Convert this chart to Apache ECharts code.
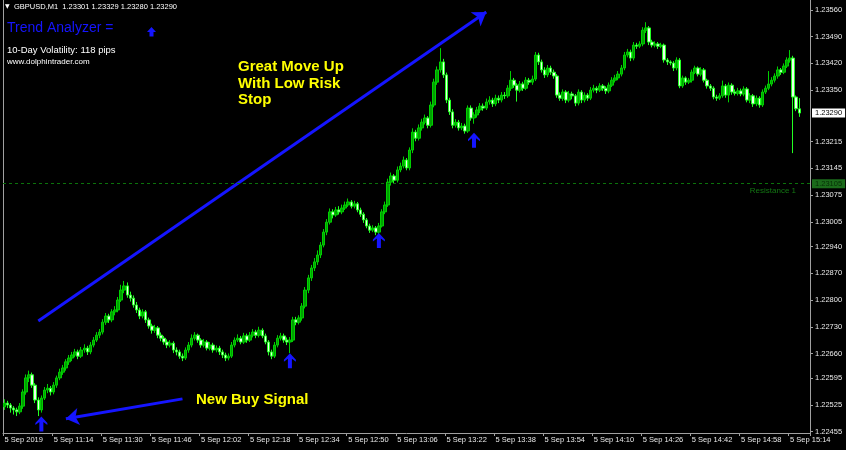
<!DOCTYPE html>
<html>
<head>
<meta charset="utf-8">
<script src="https://cdn.jsdelivr.net/npm/echarts@6/dist/echarts.min.js"></script>
<style>html,body{margin:0;padding:0;background:#000;}#c{width:846px;height:450px;}</style>
</head>
<body>
<div id="c"></div>
<script>
// ---- data (GBPUSD M1, 5 Sep 2019, from 10:58) ----
const opens = [
1.22520,1.22530,1.22525,1.22517,1.22512,1.22507,1.22522,1.22559,1.22596,1.22604,
1.22577,1.22538,1.22512,1.22543,1.22564,1.22569,1.22559,1.22577,1.22596,1.22611,
1.22622,1.22638,1.22648,1.22656,1.22664,1.22653,1.22669,1.22674,1.22664,1.22682,
1.22695,1.22708,1.22716,1.22742,1.22758,1.22748,1.22769,1.22774,1.22800,1.22826,
1.22837,1.22813,1.22805,1.22787,1.22774,1.22758,1.22769,1.22748,1.22732,1.22721,
1.22727,1.22708,1.22700,1.22690,1.22682,1.22687,1.22669,1.22664,1.22653,1.22648,
1.22669,1.22682,1.22700,1.22708,1.22695,1.22682,1.22690,1.22674,1.22682,1.22669,
1.22674,1.22664,1.22656,1.22648,1.22653,1.22682,1.22695,1.22700,1.22690,1.22706,
1.22695,1.22708,1.22716,1.22708,1.22721,1.22706,1.22690,1.22664,1.22653,1.22682,
1.22700,1.22706,1.22695,1.22690,1.22695,1.22748,1.22742,1.22753,1.22784,1.22826,
1.22858,1.22884,1.22900,1.22918,1.22944,1.22978,1.23004,1.23031,1.23023,1.23036,
1.23031,1.23041,1.23049,1.23057,1.23046,1.23052,1.23036,1.23025,1.23010,1.22994,
1.22983,1.22989,1.22978,1.22994,1.23031,1.23049,1.23109,1.23125,1.23114,1.23141,
1.23151,1.23167,1.23146,1.23193,1.23240,1.23224,1.23251,1.23266,1.23277,1.23258,
1.23311,1.23371,1.23403,1.23424,1.23390,1.23324,1.23293,1.23258,1.23266,1.23251,
1.23256,1.23243,1.23303,1.23277,1.23285,1.23298,1.23308,1.23303,1.23319,1.23324,
1.23314,1.23329,1.23324,1.23337,1.23335,1.23355,1.23376,1.23363,1.23350,1.23366,
1.23355,1.23376,1.23371,1.23379,1.23442,1.23424,1.23403,1.23390,1.23408,1.23397,
1.23387,1.23337,1.23329,1.23345,1.23324,1.23340,1.23335,1.23316,1.23345,1.23324,
1.23337,1.23329,1.23350,1.23355,1.23350,1.23361,1.23355,1.23348,1.23363,1.23376,
1.23382,1.23392,1.23408,1.23442,1.23450,1.23434,1.23468,1.23465,1.23471,1.23507,
1.23513,1.23476,1.23468,1.23471,1.23465,1.23468,1.23429,1.23424,1.23421,1.23408,
1.23429,1.23361,1.23382,1.23371,1.23376,1.23397,1.23408,1.23392,1.23403,1.23376,
1.23361,1.23355,1.23332,1.23329,1.23335,1.23361,1.23337,1.23363,1.23345,1.23342,
1.23348,1.23340,1.23353,1.23324,1.23335,1.23314,1.23329,1.23311,1.23345,1.23355,
1.23366,1.23376,1.23387,1.23403,1.23397,1.23413,1.23429,1.23434,1.23332,1.23301
];
const closes = [
1.22530,1.22525,1.22517,1.22512,1.22507,1.22522,1.22559,1.22596,1.22604,1.22577,
1.22538,1.22512,1.22543,1.22564,1.22569,1.22559,1.22577,1.22596,1.22611,1.22622,
1.22638,1.22648,1.22656,1.22664,1.22653,1.22669,1.22674,1.22664,1.22682,1.22695,
1.22708,1.22716,1.22742,1.22758,1.22748,1.22769,1.22774,1.22800,1.22826,1.22837,
1.22813,1.22805,1.22787,1.22774,1.22758,1.22769,1.22748,1.22732,1.22721,1.22727,
1.22708,1.22700,1.22690,1.22682,1.22687,1.22669,1.22664,1.22653,1.22648,1.22669,
1.22682,1.22700,1.22708,1.22695,1.22682,1.22690,1.22674,1.22682,1.22669,1.22674,
1.22664,1.22656,1.22648,1.22653,1.22682,1.22695,1.22700,1.22690,1.22706,1.22695,
1.22708,1.22716,1.22708,1.22721,1.22706,1.22690,1.22664,1.22653,1.22682,1.22700,
1.22706,1.22695,1.22690,1.22695,1.22748,1.22742,1.22753,1.22784,1.22826,1.22858,
1.22884,1.22900,1.22918,1.22944,1.22978,1.23004,1.23031,1.23023,1.23036,1.23031,
1.23041,1.23049,1.23057,1.23046,1.23052,1.23036,1.23025,1.23010,1.22994,1.22983,
1.22989,1.22978,1.22994,1.23031,1.23049,1.23109,1.23125,1.23114,1.23141,1.23151,
1.23167,1.23146,1.23193,1.23240,1.23224,1.23251,1.23266,1.23277,1.23258,1.23311,
1.23371,1.23403,1.23424,1.23390,1.23324,1.23293,1.23258,1.23266,1.23251,1.23256,
1.23243,1.23303,1.23277,1.23285,1.23298,1.23308,1.23303,1.23319,1.23324,1.23314,
1.23329,1.23324,1.23337,1.23335,1.23355,1.23376,1.23363,1.23350,1.23366,1.23355,
1.23376,1.23371,1.23379,1.23442,1.23424,1.23403,1.23390,1.23408,1.23397,1.23387,
1.23337,1.23329,1.23345,1.23324,1.23340,1.23335,1.23316,1.23345,1.23324,1.23337,
1.23329,1.23350,1.23355,1.23350,1.23361,1.23355,1.23348,1.23363,1.23376,1.23382,
1.23392,1.23408,1.23442,1.23450,1.23434,1.23468,1.23465,1.23471,1.23507,1.23513,
1.23476,1.23468,1.23471,1.23465,1.23468,1.23429,1.23424,1.23421,1.23408,1.23429,
1.23361,1.23382,1.23371,1.23376,1.23397,1.23408,1.23392,1.23403,1.23376,1.23361,
1.23355,1.23332,1.23329,1.23335,1.23361,1.23337,1.23363,1.23345,1.23342,1.23348,
1.23340,1.23353,1.23324,1.23335,1.23314,1.23329,1.23311,1.23345,1.23355,1.23366,
1.23376,1.23387,1.23403,1.23397,1.23413,1.23429,1.23434,1.23332,1.23301,1.23290
];
const lows = [
1.22512,1.22517,1.22505,1.22500,1.22496,1.22501,1.22515,1.22552,1.22585,1.22570,
1.22530,1.22496,1.22505,1.22538,1.22556,1.22550,1.22553,1.22570,1.22590,1.22604,
1.22615,1.22630,1.22640,1.22650,1.22645,1.22648,1.22662,1.22656,1.22658,1.22676,
1.22690,1.22700,1.22710,1.22735,1.22740,1.22742,1.22760,1.22768,1.22795,1.22818,
1.22806,1.22796,1.22780,1.22766,1.22750,1.22752,1.22740,1.22725,1.22712,1.22714,
1.22700,1.22692,1.22683,1.22674,1.22676,1.22661,1.22655,1.22646,1.22640,1.22643,
1.22662,1.22676,1.22694,1.22688,1.22675,1.22676,1.22668,1.22668,1.22662,1.22663,
1.22656,1.22648,1.22640,1.22642,1.22648,1.22676,1.22690,1.22684,1.22685,1.22688,
1.22690,1.22702,1.22700,1.22702,1.22700,1.22684,1.22655,1.22645,1.22648,1.22676,
1.22694,1.22688,1.22682,1.22661,1.22690,1.22734,1.22736,1.22746,1.22778,1.22818,
1.22850,1.22876,1.22892,1.22910,1.22938,1.22970,1.22998,1.23014,1.23018,1.23024,
1.23025,1.23036,1.23044,1.23040,1.23040,1.23030,1.23018,1.23002,1.22988,1.22976,
1.22978,1.22970,1.22968,1.22990,1.23025,1.23044,1.23100,1.23106,1.23108,1.23135,
1.23145,1.23140,1.23140,1.23185,1.23216,1.23218,1.23244,1.23260,1.23250,1.23252,
1.23305,1.23364,1.23396,1.23382,1.23316,1.23285,1.23250,1.23252,1.23244,1.23245,
1.23236,1.23238,1.23270,1.23262,1.23278,1.23290,1.23296,1.23298,1.23312,1.23306,
1.23308,1.23316,1.23318,1.23327,1.23330,1.23348,1.23356,1.23320,1.23344,1.23348,
1.23350,1.23364,1.23364,1.23374,1.23416,1.23396,1.23382,1.23384,1.23390,1.23380,
1.23330,1.23322,1.23322,1.23316,1.23318,1.23326,1.23308,1.23310,1.23316,1.23318,
1.23322,1.23324,1.23344,1.23342,1.23345,1.23348,1.23340,1.23342,1.23358,1.23370,
1.23376,1.23386,1.23402,1.23436,1.23426,1.23428,1.23458,1.23460,1.23465,1.23500,
1.23468,1.23462,1.23462,1.23458,1.23460,1.23422,1.23416,1.23415,1.23400,1.23402,
1.23355,1.23356,1.23364,1.23366,1.23370,1.23392,1.23386,1.23386,1.23370,1.23354,
1.23348,1.23326,1.23322,1.23324,1.23330,1.23330,1.23318,1.23338,1.23336,1.23336,
1.23334,1.23334,1.23318,1.23316,1.23306,1.23308,1.23304,1.23306,1.23340,1.23350,
1.23360,1.23370,1.23380,1.23390,1.23392,1.23408,1.23422,1.23185,1.23295,1.23280
];
const highs = [
1.22540,1.22536,1.22530,1.22522,1.22518,1.22530,1.22566,1.22605,1.22615,1.22610,
1.22582,1.22545,1.22550,1.22572,1.22580,1.22575,1.22585,1.22602,1.22620,1.22630,
1.22645,1.22656,1.22664,1.22672,1.22670,1.22677,1.22684,1.22680,1.22690,1.22703,
1.22716,1.22724,1.22750,1.22766,1.22764,1.22776,1.22784,1.22808,1.22840,1.22850,
1.22846,1.22822,1.22812,1.22795,1.22780,1.22776,1.22774,1.22754,1.22738,1.22735,
1.22732,1.22715,1.22706,1.22697,1.22695,1.22692,1.22676,1.22670,1.22660,1.22676,
1.22690,1.22710,1.22716,1.22712,1.22700,1.22698,1.22695,1.22690,1.22688,1.22681,
1.22680,1.22670,1.22662,1.22660,1.22690,1.22702,1.22710,1.22706,1.22714,1.22712,
1.22716,1.22724,1.22722,1.22730,1.22726,1.22712,1.22695,1.22670,1.22690,1.22708,
1.22714,1.22712,1.22702,1.22703,1.22756,1.22756,1.22760,1.22792,1.22834,1.22866,
1.22892,1.22910,1.22930,1.22952,1.22986,1.23012,1.23040,1.23038,1.23044,1.23046,
1.23050,1.23058,1.23066,1.23062,1.23060,1.23057,1.23042,1.23030,1.23015,1.23000,
1.22996,1.22994,1.23002,1.23038,1.23058,1.23118,1.23134,1.23130,1.23150,1.23160,
1.23176,1.23172,1.23200,1.23250,1.23246,1.23260,1.23275,1.23286,1.23282,1.23320,
1.23380,1.23412,1.23460,1.23432,1.23396,1.23330,1.23300,1.23274,1.23272,1.23264,
1.23262,1.23310,1.23310,1.23292,1.23306,1.23316,1.23315,1.23328,1.23334,1.23330,
1.23338,1.23336,1.23345,1.23345,1.23363,1.23400,1.23382,1.23368,1.23374,1.23372,
1.23384,1.23382,1.23388,1.23450,1.23448,1.23430,1.23410,1.23416,1.23414,1.23404,
1.23392,1.23344,1.23352,1.23350,1.23348,1.23346,1.23340,1.23352,1.23350,1.23344,
1.23342,1.23358,1.23364,1.23360,1.23368,1.23366,1.23360,1.23370,1.23384,1.23390,
1.23400,1.23416,1.23450,1.23458,1.23456,1.23476,1.23474,1.23478,1.23515,1.23528,
1.23518,1.23482,1.23478,1.23476,1.23474,1.23472,1.23434,1.23428,1.23426,1.23436,
1.23434,1.23388,1.23386,1.23382,1.23404,1.23414,1.23412,1.23410,1.23408,1.23380,
1.23366,1.23360,1.23338,1.23342,1.23375,1.23366,1.23370,1.23368,1.23352,1.23356,
1.23354,1.23360,1.23358,1.23342,1.23340,1.23336,1.23334,1.23352,1.23362,1.23400,
1.23384,1.23394,1.23412,1.23408,1.23420,1.23436,1.23455,1.23440,1.23336,1.23329
];
const tickLabels = ['5 Sep 2019','5 Sep 11:14','5 Sep 11:30','5 Sep 11:46','5 Sep 12:02','5 Sep 12:18',
  '5 Sep 12:34','5 Sep 12:50','5 Sep 13:06','5 Sep 13:22','5 Sep 13:38','5 Sep 13:54','5 Sep 14:10',
  '5 Sep 14:26','5 Sep 14:42','5 Sep 14:58','5 Sep 15:14'];
const priceTicks = [1.22455,1.22525,1.22595,1.22660,1.22730,1.22800,1.22870,1.22940,1.23005,1.23075,
  1.23145,1.23215,1.23350,1.23420,1.23490,1.23560];
const signalIdx = [12, 93, 122, 153];
const signalPrice = [1.22475, 1.22641, 1.22956, 1.23219];
const resistance = 1.23105;
const lastPrice = 1.23290;
const trendLine = [[10.6, 1.22745], [156.9, 1.23555]];
const buyPointer = [[58.2, 1.22541], [20.3, 1.22489]];

if (![opens, lows, highs].every(a => a.length === closes.length)) throw new Error('length mismatch ' + [opens.length, closes.length, lows.length, highs.length]);

const categories = [];
for (let k = 0; k < 263; k++) {
  const m = 10 * 60 + 58 + k;
  categories.push(String(Math.floor(m / 60)).padStart(2, '0') + ':' + String(m % 60).padStart(2, '0'));
}
const candles = closes.map((c, i) => [opens[i], c, lows[i], highs[i]]);

const FONT = '"Liberation Sans", Arial, sans-serif';
const HIDDEN = { color: 'rgba(0,0,0,0)', width: 0 };
const chart = echarts.init(document.getElementById('c'), null, { renderer: 'canvas' });
chart.setOption({
  backgroundColor: '#000000',
  animation: false,
  grid: { left: 3, right: 36, top: 0, bottom: 17, containLabel: false },
  xAxis: {
    type: 'category', data: categories, boundaryGap: true,
    axisLine: { show: true, lineStyle: { color: '#a0a0a0', width: 1 } },
    axisTick: { show: true, length: 3, interval: (i) => i % 16 === 0, lineStyle: { color: '#a0a0a0' } },
    axisLabel: {
      show: true, interval: (i) => i % 16 === 0, color: '#e8e8e8', fontSize: 7.5, fontFamily: FONT,
      align: 'left', margin: 3, hideOverlap: false,
      formatter: (v, i) => tickLabels[Math.round(i / 16)] || ''
    },
    splitLine: { show: false }
  },
  yAxis: [{
    type: 'value', position: 'right', min: 1.224516, max: 1.235862, scale: true,
    axisLine: { show: true, lineStyle: { color: '#a0a0a0', width: 1 } },
    axisTick: { show: true, length: 3, customValues: priceTicks, lineStyle: { color: '#a0a0a0' } },
    axisLabel: { show: true, customValues: priceTicks, color: '#e8e8e8', fontSize: 7.5, fontFamily: FONT,
      margin: 5, formatter: (v) => v.toFixed(5) },
    splitLine: { show: false }
  }, {
    type: 'value', position: 'left', min: 1.224516, max: 1.235862,
    axisLine: { show: true, lineStyle: { color: '#a0a0a0', width: 1 } },
    axisTick: { show: false }, axisLabel: { show: false }, splitLine: { show: false }
  }],
  series: [{
    type: 'candlestick',
    data: candles,
    barWidth: 3,
    itemStyle: {
      color: '#00a000', borderColor: '#00d000',
      color0: '#eaffea', borderColor0: '#22ff22',
      borderWidth: 1
    },
    z: 2
  }, {
    type: 'scatter',
    data: signalIdx.map((x, i) => [x, signalPrice[i]]),
    symbol: 'path://M6,0 L12,6.5 L12,8.5 L8,5.5 L8,15 L4,15 L4,5.5 L0,8.5 L0,6.5 Z',
    symbolSize: [12, 15],
    itemStyle: { color: '#1515ff', opacity: 1 },
    silent: true, z: 3,
    markLine: {
      silent: true, animation: false, precision: 5,
      symbol: ['none', 'none'],
      label: { show: false },
      lineStyle: { color: '#1515ff', width: 3, type: 'solid' },
      data: [
        [{ coord: trendLine[0], symbol: 'none' },
         { coord: trendLine[1], symbol: 'arrow', symbolSize: 13 }],
        [{ coord: buyPointer[0], symbol: 'none' },
         { coord: buyPointer[1], symbol: 'arrow', symbolSize: 13 }],
        { yAxis: resistance, lineStyle: { color: '#0b720b', width: 1, type: [3, 3] },
          label: { show: true, position: 'insideEndBottom', formatter: 'Resistance 1', color: '#137813',
            fontSize: 8, fontFamily: FONT, distance: [14, 3] } },
        { yAxis: resistance, lineStyle: HIDDEN,
          label: { show: true, position: 'end', distance: 2, formatter: resistance.toFixed(5),
            backgroundColor: '#1b6b1b', color: '#062e06', padding: [1, 3, 0, 3], fontSize: 7.5, fontFamily: FONT } },
        { yAxis: lastPrice, lineStyle: HIDDEN,
          label: { show: true, position: 'end', distance: 2, formatter: lastPrice.toFixed(5),
            backgroundColor: '#ffffff', color: '#000000', padding: [1, 3, 0, 3], fontSize: 7.5, fontFamily: FONT } }
      ]
    }
  }],
  graphic: [
    { type: 'text', x: 5, y: 3.5, style: { text: '▼', fill: '#ffffff', font: '6px "DejaVu Sans"', verticalAlign: 'top' } },
    { type: 'text', x: 14, y: 2.5, style: { text: 'GBPUSD,M1  1.23301 1.23329 1.23280 1.23290', fill: '#ffffff', font: '7.5px ' + FONT, verticalAlign: 'top' } },
    { type: 'text', x: 7, y: 21.5, style: { text: 'Trend Analyzer =', fill: '#1515ff', font: '14px ' + FONT, verticalAlign: 'top' } },
    { type: 'polygon', shape: { points: [[151.5, 27], [156, 32], [153.5, 32], [153.5, 36.5], [149.5, 36.5], [149.5, 32], [147, 32]] }, style: { fill: '#1515ff' } },
    { type: 'text', x: 7, y: 45.5, style: { text: '10-Day Volatility: 118 pips', fill: '#ffffff', font: '9.5px ' + FONT, verticalAlign: 'top' } },
    { type: 'text', x: 7, y: 57.5, style: { text: 'www.dolphintrader.com', fill: '#ffffff', font: '8px ' + FONT, verticalAlign: 'top' } },
    { type: 'text', x: 238, y: 59, style: { text: 'Great Move Up\nWith Low Risk\nStop', fill: '#ffff00', font: 'bold 15px ' + FONT, lineHeight: 16.3, verticalAlign: 'top' } },
    { type: 'text', x: 196, y: 392, style: { text: 'New Buy Signal', fill: '#ffff00', font: 'bold 15px ' + FONT, verticalAlign: 'top' } }
  ]
});
</script>
</body>
</html>
